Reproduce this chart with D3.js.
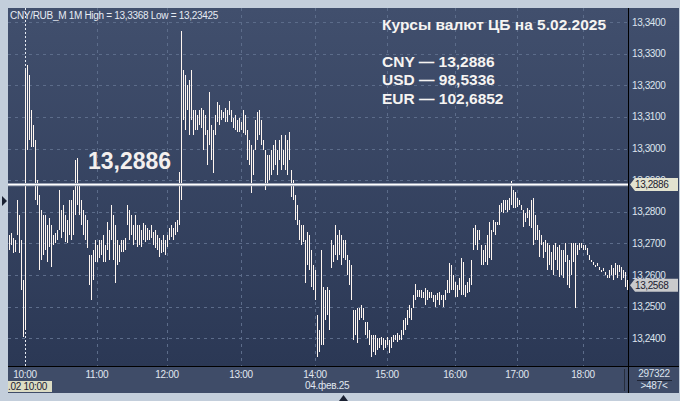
<!DOCTYPE html>
<html>
<head>
<meta charset="utf-8">
<script src="https://cdn.jsdelivr.net/npm/d3@7"></script>
<style>
  html, body { margin: 0; padding: 0; background: #c3cedb; }
  svg { display: block; font-family: "Liberation Sans", Arial, sans-serif; }
</style>
</head>
<body>
<svg id="chart" width="680" height="401"></svg>
<script>
// 1-minute bars CNY/RUB_M, high and low of each bar (one entry per plotted bar)
var barHigh = [
  13.2727, 13.2733, 13.2718, 13.2711, 13.2838, 13.2790, 13.2711, 13.2585, 13.3249, 13.3265,
  13.3233, 13.3122, 13.3075, 13.3027, 13.2901, 13.2853, 13.2806, 13.2790, 13.2790, 13.2759,
  13.2781, 13.2759, 13.2727, 13.2733, 13.2743, 13.2869, 13.2806, 13.2822, 13.2790, 13.2774,
  13.2838, 13.2838, 13.2869, 13.2964, 13.2970, 13.2885, 13.2838, 13.2806, 13.2790, 13.2774,
  13.2664, 13.2664, 13.2680, 13.2711, 13.2695, 13.2711, 13.2711, 13.2727, 13.2695, 13.2768,
  13.2743, 13.2822, 13.2790, 13.2759, 13.2711, 13.2695, 13.2711, 13.2711, 13.2718, 13.2822,
  13.2806, 13.2790, 13.2759, 13.2790, 13.2759, 13.2759, 13.2743, 13.2765, 13.2759, 13.2749,
  13.2743, 13.2759, 13.2737, 13.2743, 13.2727, 13.2718, 13.2711, 13.2727, 13.2711, 13.2727,
  13.2749, 13.2759, 13.2749, 13.2768, 13.2774, 13.2926, 13.3372, 13.3249, 13.3233, 13.3201,
  13.3217, 13.3249, 13.3122, 13.3122, 13.3106, 13.3122, 13.3129, 13.3122, 13.3106, 13.3059,
  13.3179, 13.3075, 13.3059, 13.3106, 13.3147, 13.3138, 13.3122, 13.3116, 13.3129, 13.3122,
  13.3151, 13.3122, 13.3097, 13.3106, 13.3091, 13.3097, 13.3084, 13.3122, 13.3106, 13.3059,
  13.3027, 13.3011, 13.2996, 13.3091, 13.3116, 13.3122, 13.3091, 13.3027, 13.2996, 13.2980,
  13.2980, 13.2996, 13.3012, 13.3027, 13.2996, 13.3027, 13.3043, 13.2996, 13.3043, 13.3027,
  13.3053, 13.2933, 13.2901, 13.2853, 13.2822, 13.2774, 13.2759, 13.2759, 13.2711, 13.2737,
  13.2727, 13.2680, 13.2632, 13.2616, 13.2474, 13.2427, 13.2680, 13.2563, 13.2553, 13.2563,
  13.2553, 13.2711, 13.2695, 13.2759, 13.2727, 13.2743, 13.2727, 13.2711, 13.2711, 13.2664,
  13.2648, 13.2632, 13.2490, 13.2490, 13.2496, 13.2496, 13.2506, 13.2496, 13.2452, 13.2452,
  13.2427, 13.2411, 13.2411, 13.2411, 13.2401, 13.2401, 13.2405, 13.2401, 13.2395, 13.2405,
  13.2395, 13.2405, 13.2411, 13.2411, 13.2417, 13.2411, 13.2427, 13.2458, 13.2465, 13.2490,
  13.2506, 13.2496, 13.2537, 13.2572, 13.2553, 13.2553, 13.2553, 13.2547, 13.2559, 13.2553,
  13.2547, 13.2547, 13.2537, 13.2537, 13.2544, 13.2547, 13.2537, 13.2537, 13.2553, 13.2585,
  13.2638, 13.2632, 13.2600, 13.2578, 13.2569, 13.2591, 13.2654, 13.2642, 13.2569, 13.2578,
  13.2591, 13.2648, 13.2749, 13.2759, 13.2743, 13.2743, 13.2695, 13.2680, 13.2695, 13.2727,
  13.2768, 13.2743, 13.2774, 13.2768, 13.2768, 13.2822, 13.2828, 13.2838, 13.2838, 13.2838,
  13.2844, 13.2898, 13.2869, 13.2863, 13.2844, 13.2838, 13.2822, 13.2806, 13.2797, 13.2812,
  13.2806, 13.2838, 13.2844, 13.2790, 13.2759, 13.2743, 13.2727, 13.2705, 13.2711, 13.2702,
  13.2695, 13.2673, 13.2695, 13.2702, 13.2689, 13.2695, 13.2680, 13.2680, 13.2702, 13.2664,
  13.2648, 13.2702, 13.2702, 13.2702, 13.2695, 13.2702, 13.2702, 13.2695, 13.2695, 13.2686,
  13.2664, 13.2648, 13.2642, 13.2632, 13.2638, 13.2626, 13.2616, 13.2623, 13.2610, 13.2600,
  13.2616, 13.2632, 13.2623, 13.2638, 13.2632, 13.2632, 13.2626, 13.2616, 13.2610, 13.2585
];
var barLow = [
  13.2680, 13.2695, 13.2670, 13.2673, 13.2727, 13.2670, 13.2553, 13.2405, 13.2427, 13.2996,
  13.3027, 13.3005, 13.3005, 13.2838, 13.2822, 13.2616, 13.2648, 13.2664, 13.2680, 13.2642,
  13.2689, 13.2626, 13.2695, 13.2702, 13.2711, 13.2743, 13.2718, 13.2737, 13.2705, 13.2702,
  13.2727, 13.2711, 13.2727, 13.2790, 13.2822, 13.2790, 13.2759, 13.2727, 13.2711, 13.2686,
  13.2569, 13.2522, 13.2585, 13.2642, 13.2642, 13.2654, 13.2664, 13.2642, 13.2642, 13.2680,
  13.2648, 13.2711, 13.2648, 13.2575, 13.2632, 13.2642, 13.2673, 13.2673, 13.2680, 13.2759,
  13.2711, 13.2727, 13.2695, 13.2711, 13.2689, 13.2695, 13.2689, 13.2711, 13.2705, 13.2711,
  13.2711, 13.2718, 13.2695, 13.2686, 13.2680, 13.2658, 13.2670, 13.2673, 13.2664, 13.2689,
  13.2711, 13.2721, 13.2711, 13.2727, 13.2737, 13.2759, 13.2838, 13.3091, 13.3059, 13.3122,
  13.3043, 13.3091, 13.3043, 13.3059, 13.3059, 13.3075, 13.3065, 13.2996, 13.3043, 13.2948,
  13.3012, 13.2964, 13.2923, 13.3043, 13.3084, 13.3075, 13.3091, 13.3097, 13.3084, 13.3084,
  13.3106, 13.3084, 13.3065, 13.3059, 13.3053, 13.3053, 13.3059, 13.3050, 13.3043, 13.2964,
  13.2948, 13.2860, 13.2917, 13.2996, 13.3027, 13.3043, 13.3012, 13.2996, 13.2869, 13.2885,
  13.2901, 13.2917, 13.2933, 13.2948, 13.2917, 13.2964, 13.2933, 13.2948, 13.2933, 13.2917,
  13.2964, 13.2847, 13.2838, 13.2774, 13.2759, 13.2711, 13.2695, 13.2705, 13.2575, 13.2632,
  13.2616, 13.2563, 13.2553, 13.2522, 13.2341, 13.2357, 13.2379, 13.2379, 13.2458, 13.2474,
  13.2427, 13.2623, 13.2642, 13.2664, 13.2648, 13.2664, 13.2632, 13.2654, 13.2648, 13.2600,
  13.2569, 13.2522, 13.2395, 13.2411, 13.2386, 13.2458, 13.2465, 13.2458, 13.2411, 13.2401,
  13.2379, 13.2341, 13.2357, 13.2348, 13.2363, 13.2370, 13.2379, 13.2363, 13.2370, 13.2379,
  13.2354, 13.2370, 13.2389, 13.2395, 13.2389, 13.2395, 13.2395, 13.2411, 13.2427, 13.2442,
  13.2465, 13.2458, 13.2496, 13.2522, 13.2531, 13.2531, 13.2528, 13.2528, 13.2506, 13.2522,
  13.2528, 13.2528, 13.2515, 13.2499, 13.2522, 13.2506, 13.2522, 13.2499, 13.2522, 13.2544,
  13.2544, 13.2553, 13.2553, 13.2531, 13.2531, 13.2553, 13.2537, 13.2537, 13.2531, 13.2544,
  13.2547, 13.2569, 13.2680, 13.2695, 13.2680, 13.2711, 13.2632, 13.2632, 13.2642, 13.2632,
  13.2654, 13.2648, 13.2737, 13.2727, 13.2759, 13.2759, 13.2800, 13.2797, 13.2806, 13.2800,
  13.2806, 13.2822, 13.2812, 13.2812, 13.2816, 13.2822, 13.2806, 13.2752, 13.2768, 13.2781,
  13.2755, 13.2749, 13.2695, 13.2711, 13.2711, 13.2658, 13.2695, 13.2654, 13.2673, 13.2616,
  13.2632, 13.2616, 13.2600, 13.2648, 13.2616, 13.2594, 13.2600, 13.2591, 13.2642, 13.2569,
  13.2559, 13.2600, 13.2642, 13.2496, 13.2664, 13.2680, 13.2686, 13.2680, 13.2680, 13.2664,
  13.2648, 13.2642, 13.2632, 13.2626, 13.2629, 13.2616, 13.2610, 13.2613, 13.2600, 13.2591,
  13.2591, 13.2600, 13.2585, 13.2600, 13.2591, 13.2610, 13.2585, 13.2591, 13.2563, 13.2553
];

// time axis: bar index where each hour starts
var hourBars   = [8, 44, 79, 116, 153, 189, 223, 254, 287];
var hourLabels = ["10:00", "11:00", "12:00", "13:00", "14:00", "15:00", "16:00", "17:00", "18:00"];
var priceTicks = [13.24, 13.25, 13.26, 13.27, 13.28, 13.29, 13.30, 13.31, 13.32, 13.33, 13.34];

var cbRate = 13.2886, lastPrice = 13.2568;
var headerText = "CNY/RUB_M 1M High = 13,3368 Low = 13,23425";
var infoTitle = "Курсы валют ЦБ на 5.02.2025";
var infoLines = ["CNY — 13,2886", "USD — 98,5336", "EUR — 102,6852"];
var cursorBar = 8, cursorLabel = ".02 10:00", dateLabel = "04.фев.25";
var volumeText = "297322", countText = ">487<";

var plot = { left: 8, top: 8, right: 628, bottom: 366 };
var axisRight = 679, axisBottom = 393;

var svg = d3.select("#chart");

function fmt(v) { return d3.format(".4f")(v).replace(".", ","); }

// background gradient
var defs = svg.append("defs");
var grad = defs.append("linearGradient").attr("id", "bg").attr("x1", 0).attr("x2", 0).attr("y1", 0).attr("y2", 1);
grad.append("stop").attr("offset", "0%").attr("stop-color", "#414f6d");
grad.append("stop").attr("offset", "100%").attr("stop-color", "#2b3855");
defs.append("clipPath").attr("id", "clip").append("rect")
    .attr("x", plot.left).attr("y", plot.top)
    .attr("width", plot.right - plot.left).attr("height", plot.bottom - plot.top);

svg.append("rect").attr("x", plot.left).attr("y", plot.top)
    .attr("width", axisRight - plot.left).attr("height", plot.bottom - plot.top)
    .attr("fill", "url(#bg)");
svg.append("rect").attr("x", plot.left).attr("y", plot.bottom)
    .attr("width", axisRight - plot.left).attr("height", axisBottom - plot.bottom)
    .attr("fill", "#3f4c68");

// scales
var x = d3.scaleLinear().domain([0, barHigh.length - 1]).range([plot.left + 1, plot.right - 1]);
var y = d3.scaleLinear().domain([13.24, 13.34]).range([338.3, 22]);

// grid
var grid = svg.append("g").attr("clip-path", "url(#clip)")
    .attr("stroke", "#5c6c8a").attr("stroke-width", 1).attr("stroke-dasharray", "3,4");
grid.selectAll("line.h").data(priceTicks).enter().append("line")
    .attr("x1", plot.left).attr("x2", plot.right)
    .attr("y1", function(d) { return Math.round(y(d)) + 0.5; })
    .attr("y2", function(d) { return Math.round(y(d)) + 0.5; });
grid.selectAll("line.v").data(hourBars.slice(1)).enter().append("line")
    .attr("y1", plot.top).attr("y2", plot.bottom)
    .attr("x1", function(d) { return Math.round(x(d)) + 0.5; })
    .attr("x2", function(d) { return Math.round(x(d)) + 0.5; });

// cursor line at 10:00
svg.append("line")
    .attr("x1", Math.round(x(cursorBar)) + 0.5).attr("x2", Math.round(x(cursorBar)) + 0.5)
    .attr("y1", plot.top).attr("y2", plot.bottom)
    .attr("stroke", "#e8ecf4").attr("stroke-dasharray", "2,2");

// bars, drawn crisp one pixel wide like the terminal does
svg.append("g").attr("clip-path", "url(#clip)").attr("shape-rendering", "crispEdges")
    .selectAll("rect").data(barHigh).enter().append("rect")
    .attr("x", function(d, i) { return Math.round(x(i)); })
    .attr("width", 1)
    .attr("y", function(d) { return Math.round(y(d)); })
    .attr("height", function(d, i) { return Math.max(2, Math.round(y(barLow[i]) - y(d))); })
    .attr("fill", "#fff6f0");

// CB rate line
var yr = y(cbRate);
svg.append("line").attr("x1", plot.left).attr("x2", plot.right).attr("y1", yr).attr("y2", yr)
    .attr("stroke", "#9aa2b4").attr("stroke-width", 3.2);
svg.append("line").attr("x1", plot.left).attr("x2", plot.right).attr("y1", yr).attr("y2", yr)
    .attr("stroke", "#ffffff").attr("stroke-width", 1.4);
svg.append("text").attr("x", 88).attr("y", 169)
    .attr("font-size", 23).attr("font-weight", "bold").attr("fill", "#f3efee")
    .text(fmt(cbRate));

// panel borders
svg.append("line").attr("x1", plot.right + 0.5).attr("x2", plot.right + 0.5)
    .attr("y1", plot.top).attr("y2", axisBottom).attr("stroke", "#000");
svg.append("line").attr("x1", plot.left).attr("x2", axisRight)
    .attr("y1", plot.bottom + 0.5).attr("y2", plot.bottom + 0.5).attr("stroke", "#000");
svg.append("line").attr("x1", 624.5).attr("x2", 624.5).attr("y1", 369).attr("y2", 391)
    .attr("stroke", "#262d3c");

// right price axis (the 13,2900 label sits under the rate callout, as in the terminal)
svg.append("g").selectAll("text").data(priceTicks).enter().append("text")
    .attr("x", 632).attr("y", function(d) { return y(d) + 3.5; })
    .attr("font-size", 10).attr("letter-spacing", -0.4).attr("fill", "#dde4ee")
    .text(fmt);

// price callouts
function callout(v, fill) {
    var yc = y(v);
    svg.append("path")
        .attr("d", "M630," + yc + "L635," + (yc - 6.5) + "H678V" + (yc + 6.5) + "H635Z")
        .attr("fill", fill);
    svg.append("text").attr("x", 635).attr("y", yc + 3.5)
        .attr("font-size", 10).attr("letter-spacing", -0.4).attr("fill", "#1b2030")
        .text(fmt(v));
}
callout(cbRate, "#e2e2cf");
callout(lastPrice, "#c9cacc");

// time axis
svg.append("g").selectAll("text").data(hourBars).enter().append("text")
    .attr("x", function(d) { return x(d); }).attr("y", 378)
    .attr("text-anchor", "middle")
    .attr("font-size", 10).attr("letter-spacing", -0.3).attr("fill", "#e0e7f0")
    .text(function(d, i) { return hourLabels[i]; });
svg.append("text").attr("x", 305).attr("y", 389)
    .attr("font-size", 10).attr("letter-spacing", -0.3).attr("fill", "#e0e7f0")
    .text(dateLabel);
svg.append("rect").attr("x", plot.left).attr("y", 381).attr("width", 44).attr("height", 11)
    .attr("fill", "#dcdcc4");
svg.append("text").attr("x", plot.left).attr("y", 390)
    .attr("font-size", 10).attr("letter-spacing", -0.3).attr("fill", "#1b2030")
    .text(cursorLabel);

// corner box
svg.append("text").attr("x", 654).attr("y", 377).attr("text-anchor", "middle")
    .attr("font-size", 10).attr("letter-spacing", -0.3).attr("fill", "#dde4ee").text(volumeText);
svg.append("line").attr("x1", 637).attr("x2", 672).attr("y1", 380.5).attr("y2", 380.5)
    .attr("stroke", "#1e2434");
svg.append("text").attr("x", 654).attr("y", 389).attr("text-anchor", "middle")
    .attr("font-size", 10).attr("letter-spacing", -0.3).attr("fill", "#dde4ee").text(countText);

// header and info text
svg.append("text").attr("x", 10).attr("y", 19)
    .attr("font-size", 10).attr("letter-spacing", -0.3).attr("fill", "#e6ebf3")
    .text(headerText);
svg.append("text").attr("x", 382).attr("y", 30)
    .attr("font-size", 15.5).attr("font-weight", "bold").attr("fill", "#f6f4f2")
    .text(infoTitle);
svg.append("g").selectAll("text").data(infoLines).enter().append("text")
    .attr("x", 382).attr("y", function(d, i) { return 67 + i * 18.3; })
    .attr("font-size", 15.5).attr("font-weight", "bold").attr("fill", "#f6f4f2")
    .text(function(d) { return d; });

// small markers on the frame
svg.append("path").attr("d", "M2,196L7,201L2,206Z").attr("fill", "#1a2132");
svg.append("path").attr("d", "M339,401L343.5,395L348,401Z").attr("fill", "#1a2132");
</script>
</body>
</html>
